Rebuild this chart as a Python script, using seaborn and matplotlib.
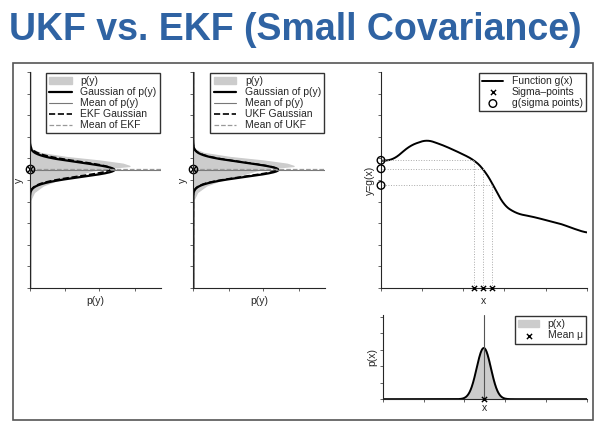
import numpy as np
import pandas as pd
import matplotlib
matplotlib.use('Agg')
import matplotlib.pyplot as plt
import seaborn as sns

sns.set_style('ticks')
plt.rcParams['font.family'] = ['Liberation Sans', 'DejaVu Sans']

# function g(x)
g_x = [0, 0.61, 1.42, 2.23, 3.04, 3.85, 4.50, 4.98, 5.47, 5.95, 6.60, 7.41, 8.06, 8.71, 9.35, 10]
g_y = [5.88, 5.94, 6.60, 6.87, 6.60, 6.25, 5.94, 5.52, 4.75, 3.83, 3.44, 3.29, 3.13, 2.98, 2.75, 2.55]
sigma_x = [4.51, 4.95, 5.40]
sigma_gy = [5.91, 5.52, 4.75]

# p(y), skewed transformed density
py_y = [0, 4.06, 4.44, 4.75, 4.98, 5.22, 5.45, 5.57, 5.65, 5.75, 5.90, 6.06, 6.25, 6.45, 10]
py_p = [0, 0.0, 0.03, 0.10, 0.20, 0.35, 0.48, 0.61, 0.76, 0.71, 0.53, 0.28, 0.08, 0.0, 0]
mean_py = 5.47
gauss_mu, gauss_sd, gauss_peak = 5.47, 0.33, 0.645
ekf_mu, ekf_sd, ekf_peak = 5.52, 0.34, 0.62
ukf_mu, ukf_sd, ukf_peak = 5.49, 0.33, 0.635

# p(x)
px_mu, px_sd = 4.95, 0.35

yy = np.linspace(0, 10, 600)
xx = np.linspace(0, 10, 600)


def bell(t, mu, sd, peak):
    return peak * np.exp(-0.5 * ((t - mu) / sd) ** 2)


fig = plt.figure(figsize=(6, 4.26), dpi=100)
fig.text(0.015, 0.93, 'UKF vs. EKF (Small Covariance)', fontsize=27, fontweight='bold',
         color='#2f63a3', va='center')
fig.patches.append(plt.Rectangle((0.022, 0.014), 0.967, 0.838, transform=fig.transFigure,
                                 fill=False, edgecolor='#555555', lw=1.2))

fs = 7.5
for pos, name, mu, sd, peak in [([0.05, 0.324, 0.218, 0.507], 'EKF', ekf_mu, ekf_sd, ekf_peak),
                                ([0.322, 0.324, 0.22, 0.507], 'UKF', ukf_mu, ukf_sd, ukf_peak)]:
    ax = fig.add_axes(pos)
    ax.fill_betweenx(py_y, 0, py_p, color='#cccccc', label='p(y)')
    ax.plot(bell(yy, gauss_mu, gauss_sd, gauss_peak), yy, color='black', lw=1.6, label='Gaussian of p(y)')
    ax.axhline(mean_py, color='#777777', lw=0.8, label='Mean of p(y)')
    ax.plot(bell(yy, mu, sd, peak), yy, color='black', lw=1.2, ls='--', label=f'{name} Gaussian')
    ax.axhline(mu, color='#999999', lw=0.9, ls='--', label=f'Mean of {name}')
    ax.plot([0], [ukf_mu], marker='o', mfc='none', mec='black', ms=6, clip_on=False)
    ax.plot([0], [ukf_mu], marker='x', color='black', ms=4, clip_on=False)
    ax.set_xlim(0, 1)
    ax.set_ylim(0, 10)
    ax.set_xticks([0, 0.27, 0.53, 0.8])
    ax.set_yticks(range(0, 11))
    ax.tick_params(labelbottom=False, labelleft=False, length=2, width=0.5)
    ax.set_xlabel('p(y)', fontsize=fs)
    ax.set_ylabel('y', fontsize=fs, labelpad=2)
    sns.despine(ax=ax)
    ax.legend(loc='upper right', fontsize=fs, frameon=True, fancybox=False, edgecolor='black',
              handlelength=2.2, borderpad=0.3, labelspacing=0.1, borderaxespad=0.1)

# g(x) panel
gx_dense = np.linspace(0, 10, 400)
g_df = pd.DataFrame({'x': gx_dense, 'y': np.interp(gx_dense, g_x, g_y)})
g_df['y'] = np.convolve(np.pad(g_df['y'], 12, mode='edge'), np.ones(25) / 25, mode='valid')
ax = fig.add_axes([0.635, 0.324, 0.343, 0.507])
sns.lineplot(data=g_df, x='x', y='y', color='black', lw=1.4, ax=ax, label='Function g(x)')
for sx, sy in zip(sigma_x, sigma_gy):
    ax.plot([sx, sx, 0], [0, sy, sy], color='#aaaaaa', lw=0.7, ls=':')
ax.scatter(sigma_x, [0] * 3, marker='x', color='black', s=14, lw=1, clip_on=False, zorder=5, label='Sigma\u2013points')
ax.scatter([0] * 3, sigma_gy, marker='o', facecolor='none', edgecolor='black', s=30, lw=1, clip_on=False, zorder=5,
           label='g(sigma points)')
ax.set_xlim(0, 10)
ax.set_ylim(0, 10)
ax.set_xticks(range(0, 11, 2))
ax.set_yticks(range(0, 11))
ax.tick_params(labelbottom=False, labelleft=False, length=2, width=0.5)
ax.set_xlabel('x', fontsize=fs)
ax.set_ylabel('y=g(x)', fontsize=fs, labelpad=2)
sns.despine(ax=ax)
ax.legend(loc='upper right', fontsize=fs, frameon=True, fancybox=False, edgecolor='black',
          borderpad=0.3, labelspacing=0.1, borderaxespad=0.1)

# p(x) panel
ax = fig.add_axes([0.638, 0.063, 0.34, 0.197])
px = bell(xx, px_mu, px_sd, 1 / (px_sd * np.sqrt(2 * np.pi)))
ax.fill_between(xx, 0, px, color='#cccccc', label='p(x)')
sns.lineplot(x=xx, y=px, color='black', lw=1.4, ax=ax)
ax.axvline(px_mu, color='#555555', lw=0.8)
ax.scatter([px_mu], [0], marker='x', color='black', s=14, lw=1, clip_on=False, zorder=5, label='Mean \u03bc')
ax.set_xlim(0, 10)
ax.set_ylim(0, 1.87)
ax.set_xticks(range(0, 11, 2))
ax.set_yticks(np.arange(0, 1.87, 0.367))
ax.tick_params(labelbottom=False, labelleft=False, length=2, width=0.5)
ax.set_xlabel('x', fontsize=fs, labelpad=1)
ax.set_ylabel('p(x)', fontsize=fs, labelpad=2)
sns.despine(ax=ax)
ax.legend(loc='upper right', fontsize=fs, frameon=True, fancybox=False, edgecolor='black',
          borderpad=0.3, labelspacing=0.1, borderaxespad=0.1)

plt.savefig('out.png', dpi=100)
